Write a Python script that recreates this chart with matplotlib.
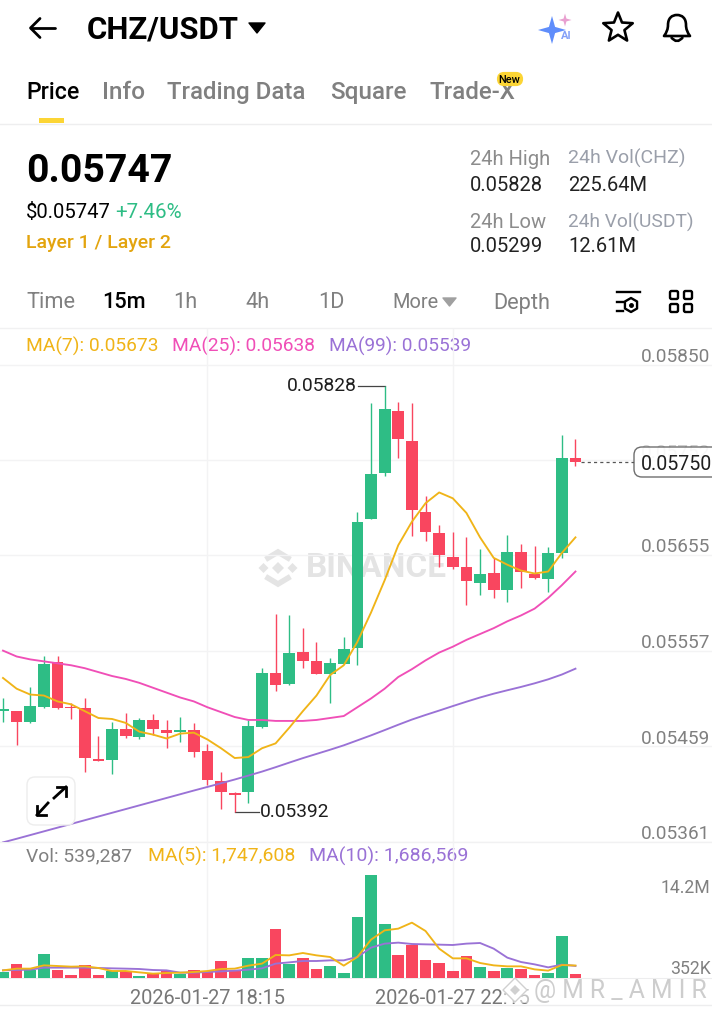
"""plot.py - CHZ/USDT 15m market screen with candles, MA lines and volume."""
import numpy as np
import matplotlib
matplotlib.use("Agg")
import matplotlib.pyplot as plt
from matplotlib.font_manager import FontProperties
from matplotlib.patches import FancyBboxPatch, PathPatch, Polygon
from matplotlib.path import Path
from matplotlib.textpath import TextPath
from matplotlib.transforms import ScaledTranslation

FONT = "Roboto"
W, H = 712, 1015

# ── Candles (one per 15 min) ──────────────────────────────────────────────────
OPEN = [0.05495, 0.05495, 0.05484, 0.05499, 0.05545, 0.05499, 0.05498, 0.05446, 0.05445, 0.05477, 0.05469,
        0.05486, 0.05476, 0.05474, 0.05476, 0.05454, 0.05423, 0.05411, 0.05412, 0.05479, 0.05534, 0.05523,
        0.05556, 0.05546, 0.05533, 0.05543, 0.05560, 0.05692, 0.05739, 0.05802, 0.05772, 0.05699, 0.05677,
        0.05653, 0.05643, 0.05626, 0.05636, 0.05619, 0.05658, 0.05635, 0.05630, 0.05657, 0.05754]
HIGH = [0.05508, 0.05495, 0.05520, 0.05552, 0.05551, 0.05503, 0.05508, 0.05470, 0.05484, 0.05493, 0.05488,
        0.05492, 0.05486, 0.05489, 0.05483, 0.05461, 0.05433, 0.05412, 0.05486, 0.05539, 0.05595, 0.05593,
        0.05580, 0.05566, 0.05549, 0.05571, 0.05699, 0.05811, 0.05828, 0.05812, 0.05811, 0.05715, 0.05686,
        0.05679, 0.05673, 0.05661, 0.05652, 0.05675, 0.05666, 0.05664, 0.05663, 0.05778, 0.05774]
LOW = [0.05484, 0.05460, 0.05483, 0.05498, 0.05497, 0.05487, 0.05433, 0.05444, 0.05431, 0.05468, 0.05466,
       0.05471, 0.05457, 0.05463, 0.05448, 0.05419, 0.05395, 0.05392, 0.05401, 0.05478, 0.05516, 0.05522,
       0.05539, 0.05533, 0.05503, 0.05543, 0.05542, 0.05692, 0.05736, 0.05754, 0.05674, 0.05669, 0.05643,
       0.05641, 0.05604, 0.05614, 0.05611, 0.05607, 0.05621, 0.05630, 0.05617, 0.05652, 0.05746]
CLOSE = [0.05497, 0.05484, 0.05500, 0.05543, 0.05498, 0.05498, 0.05447, 0.05444, 0.05477, 0.05470, 0.05486,
         0.05477, 0.05473, 0.05476, 0.05453, 0.05425, 0.05412, 0.05409, 0.05480, 0.05534, 0.05522, 0.05555,
         0.05546, 0.05533, 0.05544, 0.05559, 0.05689, 0.05738, 0.05804, 0.05774, 0.05701, 0.05678, 0.05655,
         0.05643, 0.05628, 0.05635, 0.05619, 0.05658, 0.05638, 0.05631, 0.05657, 0.05754, 0.05750]

MA7 = [0.05529, 0.05518, 0.05512, 0.05511, 0.05505, 0.05502, 0.05495, 0.05488, 0.05487, 0.05483, 0.05474,
       0.05471, 0.05467, 0.05472, 0.05473, 0.05466, 0.05457, 0.05447, 0.05448, 0.05457, 0.05462, 0.05478,
       0.05495, 0.05511, 0.05532, 0.05542, 0.05566, 0.05596, 0.05629, 0.05665, 0.05689, 0.05708, 0.05719,
       0.05713, 0.05698, 0.05673, 0.05652, 0.05645, 0.05639, 0.05636, 0.05638, 0.05657, 0.05673]
MA25 = [0.05557, 0.05551, 0.05548, 0.05546, 0.05544, 0.05542, 0.05539, 0.05535, 0.05531, 0.05528, 0.05524,
        0.05519, 0.05514, 0.05509, 0.05505, 0.05499, 0.05494, 0.05489, 0.05486, 0.05486, 0.05485, 0.05485,
        0.05485, 0.05486, 0.05488, 0.05490, 0.05499, 0.05508, 0.05518, 0.05530, 0.05538, 0.05547, 0.05555,
        0.05561, 0.05568, 0.05574, 0.05580, 0.05587, 0.05593, 0.05600, 0.05611, 0.05624, 0.05638]
MA99 = [0.053606, 0.053643, 0.053681, 0.053719, 0.053757, 0.053795, 0.053833, 0.053871, 0.053909, 0.053947,
        0.053985, 0.054023, 0.054061, 0.054099, 0.054137, 0.054174, 0.054212, 0.054250, 0.054290, 0.054331,
        0.054376, 0.054423, 0.054469, 0.054512, 0.054555, 0.054600, 0.054651, 0.054702, 0.054756, 0.054811,
        0.054864, 0.054911, 0.054956, 0.055002, 0.055047, 0.055090, 0.055129, 0.055164, 0.055198, 0.055235,
        0.055276, 0.055325, 0.055385]

# Volume, in millions
VOLUME = [0.80, 2.00, 1.16, 3.32, 1.08, 0.38, 1.78, 0.46, 0.98, 0.94, 0.32, 0.60, 0.94, 0.60, 1.16, 0.94,
          2.34, 0.94, 2.76, 2.84, 6.90, 2.00, 2.76, 1.22, 1.72, 0.74, 8.54, 14.46, 7.60, 3.18, 4.66, 2.48,
          2.14, 0.98, 3.08, 1.54, 0.98, 1.40, 1.30, 0.42, 0.66, 5.84, 0.54]
VOL_MA5 = [1.07, 1.31, 1.31, 1.77, 1.68, 1.59, 1.63, 1.40, 0.98, 0.98, 0.79, 0.61, 0.70, 0.75, 0.84, 0.98,
           1.26, 1.31, 1.73, 2.01, 3.22, 3.17, 3.50, 3.17, 2.94, 1.73, 2.94, 5.37, 6.67, 6.91, 7.75, 6.58,
           4.11, 2.75, 2.75, 2.10, 1.77, 1.63, 1.63, 1.21, 1.03, 1.82, 1.75]
VOL_MA10 = [1.07, 1.12, 1.17, 1.45, 1.45, 1.45, 1.45, 1.40, 1.35, 1.31, 1.26, 1.12, 1.07, 0.75, 0.75, 0.84,
            0.93, 1.03, 1.17, 1.35, 2.01, 2.19, 2.38, 2.38, 2.47, 2.47, 2.94, 4.25, 4.81, 4.95, 4.76, 4.71,
            4.67, 4.62, 4.81, 4.90, 4.11, 2.85, 2.24, 1.91, 1.49, 1.87, 1.69]

PRICE_TICKS = [0.05850, 0.05752, 0.05655, 0.05557, 0.05459, 0.05361]
VOL_TICKS = [14.2, 0.352]
VOL_TICK_LABELS = ["14.2M", "352K"]
DATE_IDX = [15, 33]
DATE_LABELS = ["2026-01-27 18:15", "2026-01-27 22:15"]

GREEN = "#2EBD85"
RED = "#F9465F"
YELLOW = "#F0B418"
PINK = "#F04FB7"
PURPLE = "#9A72D6"
GRID = "#F3F3F4"
GREY = "#808080"

idx = np.arange(len(CLOSE))
o, h, l, c = map(np.array, (OPEN, HIGH, LOW, CLOSE))
colors = [GREEN if cc >= oo else RED for oo, cc in zip(o, c)]


def fit(s, width_px, weight="normal"):
    # font size (pt) that makes s come out width_px wide
    tp = TextPath((0, 0), s, size=100, prop=FontProperties(family=FONT, weight=weight))
    return 100 * width_px * 0.72 / tp.get_extents().width


fig = plt.figure(figsize=(W / 100, H / 100), dpi=100, facecolor="white")


def pixel_axes(zorder):
    a = fig.add_axes([0, 0, 1, 1], zorder=zorder, facecolor="none")
    a.set_xlim(0, W)
    a.set_ylim(H, 0)
    a.axis("off")
    return a


ui = pixel_axes(0)
top = pixel_axes(5)


def txt(x0, x1, y, s, color="black", weight="normal", ax=ui, size=None, **kw):
    return ax.text(x0 - 1, y + 1, s, color=color, family=FONT, weight=weight,
                   fontsize=size or fit(s, x1 - x0, weight), ha="left", va="center", **kw)


# ── Header ────────────────────────────────────────────────────────────────────
ui.plot([55, 30.5], [28, 28], color="black", lw=2, solid_capstyle="round")
ui.plot([40, 30.5, 40], [18.5, 28, 37.5], color="black", lw=2, solid_capstyle="round", solid_joinstyle="round")
txt(88, 238, 28, "CHZ/USDT", weight="bold")
ui.add_patch(Polygon([(249, 23), (265, 23), (257, 33)], fc="black", ec="black", lw=1, joinstyle="round"))


def sparkle(cx, cy, r, color):
    k = 0.22 * r
    pts = [(cx, cy - r), (cx + k, cy - k), (cx + r, cy), (cx + k, cy + k),
           (cx, cy + r), (cx - k, cy + k), (cx - r, cy), (cx - k, cy - k)]
    ui.add_patch(Polygon(pts, fc=color, ec="none"))


sparkle(552, 30, 14, "#5F8DFB")
sparkle(565, 20, 6.5, "#E9A0D0")
ui.text(566.5, 36, "AI", color="#84A0F8", family=FONT, weight="bold", fontsize=8, ha="center", va="center")

ang = np.pi / 2 + np.arange(10) * np.pi / 5
rad = np.where(np.arange(10) % 2 == 0, 15.5, 6.8)
ui.add_patch(Polygon(np.c_[618 + rad * np.cos(ang), 28 - rad * np.sin(ang)], fc="none", ec="black",
                     lw=1.9, joinstyle="round"))

bell = Path([(664, 36), (668, 31), (668, 25), (668, 18), (672, 15), (677, 15), (682, 15), (686, 18), (686, 25),
             (686, 31), (690, 36), (664, 36)],
            [Path.MOVETO, Path.CURVE3, Path.CURVE3, Path.CURVE4, Path.CURVE4, Path.CURVE4, Path.CURVE4, Path.CURVE4,
             Path.CURVE4, Path.CURVE3, Path.CURVE3, Path.CLOSEPOLY])
ui.add_patch(PathPatch(bell, fc="none", ec="black", lw=1.9, joinstyle="round"))
ui.add_patch(PathPatch(Path([(671, 37), (677, 45), (683, 37)], [Path.MOVETO, Path.CURVE3, Path.CURVE3]),
                       fc="none", ec="black", lw=1.9))

txt(27, 78, 91, "Price", weight="medium")
txt(103, 143, 91, "Info", color=GREY, weight="medium")
txt(168, 305, 91, "Trading Data", color=GREY, weight="medium")
txt(331, 406, 91, "Square", color=GREY, weight="medium")
txt(431, 516, 91, "Trade-X", color=GREY, weight="medium")
ui.add_patch(FancyBboxPatch((499, 74), 22, 10, boxstyle="round,pad=0,rounding_size=5", mutation_aspect=1,
                            fc="#FCD535", ec="#FCD535", lw=3, zorder=3))
txt(499, 520, 78.5, "New", weight="medium", zorder=4)
ui.fill_between([39, 64], 118, 123, color="#FCD535", lw=0)
ui.plot([0, W], [124, 124], color="#EEEEEF", lw=1)

# ── Price summary ─────────────────────────────────────────────────────────────
txt(27, 170, 170, "0.05747", weight="bold")
txt(27, 110, 211, "$0.05747")
txt(116, 181, 211, "+7.46%", color=GREEN)
txt(27, 170, 242, "Layer 1 / Layer 2", color="#E3A40E", weight="medium")
STAT = fit("0.05828", 71)
txt(471, 549, 158, "24h High", color="#8C8C8C", size=STAT)
txt(471, 542, 184, "0.05828", color="#222222", size=STAT)
txt(569, 684, 157, "24h Vol(CHZ)", color="#9A9FAA")
txt(569, 645, 184, "225.64M", color="#222222", size=STAT)
txt(471, 544, 221, "24h Low", color="#8C8C8C", size=STAT)
txt(471, 542, 245, "0.05299", color="#222222", size=STAT)
txt(569, 692, 221, "24h Vol(USDT)", color="#9A9FAA")
txt(569, 634, 245, "12.61M", color="#222222", size=STAT)

# ── Timeframe row ─────────────────────────────────────────────────────────────
ROW = fit("Depth", 54)
txt(27, 69, 302, "Time", color=GREY, size=ROW)
txt(103, 140, 302, "15m", weight="medium", size=ROW)
txt(174, 195, 302, "1h", color=GREY, size=ROW)
txt(246, 268, 302, "4h", color=GREY, size=ROW)
txt(319, 342, 302, "1D", color=GREY, size=ROW)
txt(393, 437, 302, "More", color=GREY)
ui.add_patch(Polygon([(443, 298), (456, 298), (449.5, 306)], fc="#A0A0A0", ec="#A0A0A0", lw=1, joinstyle="round"))
txt(494, 548, 302, "Depth", color=GREY, size=ROW)

ui.plot([617, 640], [292, 292], color="black", lw=1.7)
ui.plot([617, 623], [302, 302], color="black", lw=1.7)
ui.plot([617, 623], [311, 311], color="black", lw=1.7)
hx = np.pi / 6 + np.arange(6) * np.pi / 3
ui.add_patch(Polygon(np.c_[631 + 7 * np.sin(hx - np.pi / 6), 305 + 7 * np.cos(hx - np.pi / 6)], fc="none",
                     ec="black", lw=1.7, joinstyle="round"))
ui.plot([631], [305], "o", color="black", ms=2.5)
for sx, sy in [(670, 291), (684, 291), (670, 304), (684, 304)]:
    ui.add_patch(FancyBboxPatch((sx, sy), 8, 8, boxstyle="round,pad=0,rounding_size=1.5", fc="none", ec="black", lw=1.7))

ui.plot([0, W], [328, 328], color="#F1F1F2", lw=1)
txt(27, 156, 345, "MA(7): 0.05673", color=YELLOW)
txt(173, 313, 345, "MA(25): 0.05638", color=PINK)
txt(330, 469, 345, "MA(99): 0.05539", color=PURPLE)

# Watermark behind the candles
BG = "#E4E4E4"
for dx, dy, r in [(0, 0, 6), (-14.5, 0, 5), (14.5, 0, 5)]:
    ui.add_patch(Polygon([(278 + dx, 568 + dy - r), (278 + dx + r, 568 + dy), (278 + dx, 568 + dy + r),
                          (278 + dx - r, 568 + dy)], fc=BG, ec="none"))
ui.plot([268, 278, 288], [558, 552, 558], color=BG, lw=4, solid_joinstyle="miter")
ui.plot([268, 278, 288], [578, 584, 578], color=BG, lw=4, solid_joinstyle="miter")
txt(307, 457, 567, "BINANCE", color=BG, weight="bold", size=24)

ui.plot([0, W], [842, 842], color="#F1F1F2", lw=1)
txt(27, 132, 855, "Vol: 539,287", color=GREY)
txt(149, 294, 855, "MA(5): 1,747,608", color=YELLOW)
txt(310, 466, 855, "MA(10): 1,686,569", color=PURPLE)
ui.plot([0, W], [1005, 1005], color="#EDEDEE", lw=1)

# ── Price axes ────────────────────────────────────────────────────────────────
XLIM = (-3 / 13.63, (W - 3) / 13.63)
ax = fig.add_axes([0, 1 - 842 / H, 1, (842 - 329) / H], zorder=2, facecolor="none")
ax.set_xlim(*XLIM)
ax.set_ylim(0.05361, 0.058864)
for s in ax.spines.values():
    s.set_visible(False)
ax.set_xticks(DATE_IDX)
ax.set_yticks(PRICE_TICKS)
ax.set_yticklabels([f"{v:.5f}" for v in PRICE_TICKS])
ax.grid(True, color=GRID, lw=1)
ax.set_axisbelow(True)
ax.yaxis.tick_right()
ax.tick_params(axis="x", length=0, labelbottom=False)
ax.tick_params(axis="y", length=0, pad=-1, labelcolor=GREY, labelsize=fit("0.05850", 67))
for lab in ax.get_yticklabels():
    lab.set_family(FONT)
    lab.set_ha("right")
    lab.set_va("bottom")
    lab.set_transform(lab.get_transform() + ScaledTranslation(0, -1 / 72, fig.dpi_scale_trans))
ax.get_yticklabels()[1].set_color("#CFCFCF")

ax.vlines(idx, l, h, colors=colors, lw=1.0, zorder=3)
ax.bar(idx, np.maximum(np.abs(c - o), 1.2e-5), bottom=np.minimum(o, c), width=0.86, color=colors, zorder=3)
ax.plot(idx, MA99, color=PURPLE, lw=1.35, zorder=4)
ax.plot(idx, MA25, color=PINK, lw=1.35, zorder=4)
ax.plot(idx, MA7, color=YELLOW, lw=1.35, zorder=4)

# High and low flags
ihi, ilo = int(np.argmax(h)), int(np.argmin(l))
ax.plot([26.05, ihi], [h[ihi], h[ihi]], color="#444444", lw=0.9, zorder=2)
ax.text(25.95, h[ihi], f"{h[ihi]:.5f}", family=FONT, fontsize=fit("0.05828", 68), color="#1E1E1E",
        ha="right", va="center")
ax.plot([ilo, 18.75], [l[ilo], l[ilo]], color="#444444", lw=0.9, zorder=2)
ax.text(18.85, l[ilo], f"{l[ilo]:.5f}", family=FONT, fontsize=fit("0.05392", 68), color="#1E1E1E",
        ha="left", va="center")

# Last price marker
ax.plot([42.4, 46.3], [c[-1], c[-1]], color="#555555", lw=0.9, ls=(0, (2.5, 2.5)), zorder=3)

# ── Volume axes ───────────────────────────────────────────────────────────────
vax = fig.add_axes([0, 1 - 978 / H, 1, (978 - 842) / H], zorder=2, facecolor="none")
vax.set_xlim(*XLIM)
vax.set_ylim(0, 19.04)
for name, s in vax.spines.items():
    s.set_visible(name == "bottom")
vax.spines["bottom"].set_color("#EDEDEE")
vax.set_xticks(DATE_IDX)
vax.set_xticklabels(DATE_LABELS)
vax.set_yticks(VOL_TICKS)
vax.set_yticklabels(VOL_TICK_LABELS)
vax.grid(True, axis="x", color=GRID, lw=1)
vax.set_axisbelow(True)
vax.yaxis.tick_right()
vax.tick_params(axis="x", length=0, pad=8, labelcolor="#777777", labelsize=fit(DATE_LABELS[0], 154))
vax.tick_params(axis="y", length=0, pad=-1, labelcolor=GREY, labelsize=fit("352K", 40))
for lab in vax.get_xticklabels() + vax.get_yticklabels():
    lab.set_family(FONT)
yl = vax.get_yticklabels()
yl[0].set_ha("right")
yl[0].set_va("top")
yl[0].set_transform(yl[0].get_transform() + ScaledTranslation(0, -2 / 72, fig.dpi_scale_trans))
yl[1].set_ha("right")
yl[1].set_va("bottom")
yl[1].set_transform(yl[1].get_transform() + ScaledTranslation(0, -1.5 / 72, fig.dpi_scale_trans))

vax.bar(idx, VOLUME, width=0.86, color=colors, zorder=3)
vax.plot(idx, VOL_MA10, color=PURPLE, lw=1.35, zorder=4)
vax.plot(idx, VOL_MA5, color=YELLOW, lw=1.35, zorder=4)

# ── Overlay: last price box, expand button, watermark ─────────────────────────
top.add_patch(FancyBboxPatch((634, 447), 100, 30, boxstyle="round,pad=0,rounding_size=8", fc="white",
                             ec="#555555", lw=1, alpha=0.85))
txt(642, 711, 463, "0.05750", color="#1E1E1E", ax=top)

top.add_patch(FancyBboxPatch((27, 777), 48, 48, boxstyle="round,pad=0,rounding_size=8", fc="white",
                             ec="#EDEDED", lw=1))
top.plot([37, 48], [815, 803], color="black", lw=2)
top.plot([37, 37, 46], [806, 815, 815], color="black", lw=2)
top.plot([54, 66], [798, 787], color="black", lw=2)
top.plot([57, 66, 66], [787, 787, 796], color="black", lw=2)

top.fill_between([503, 712], 981, 1003, color="white", alpha=0.55, lw=0)
top.add_patch(Polygon([(515, 978), (527, 990), (515, 1002), (503, 990)], fc="white", ec="#D0D0D0", lw=1))
top.add_patch(Polygon([(515, 985), (520, 990), (515, 995), (510, 990)], fc="#D0D0D0", ec="none"))
txt(535, 706, 990, "@ M R _ A M I R", color="#CDCDCD", ax=top)

fig.savefig("out.png", dpi=100, facecolor="white")
plt.close(fig)
